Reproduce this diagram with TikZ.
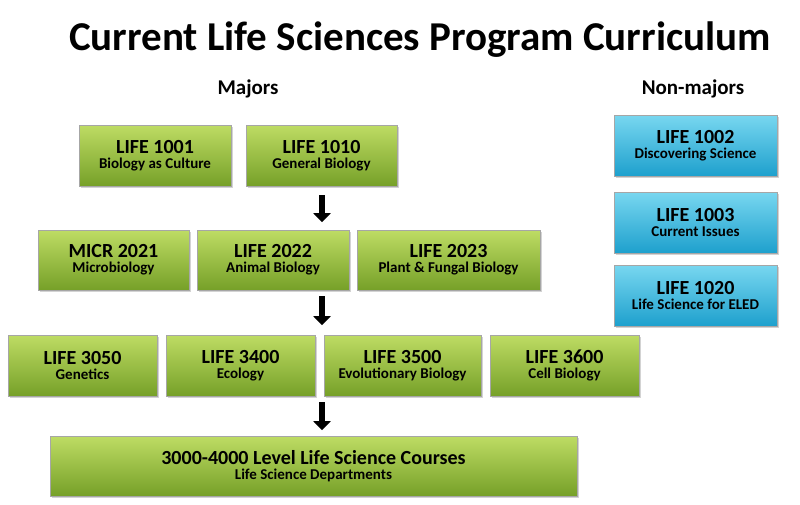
\documentclass[tikz,border=0pt]{standalone}
\usepackage{fontspec}
\setmainfont{Carlito}
\usetikzlibrary{shadows,arrows.meta}
\definecolor{gtop}{RGB}{190,220,100}
\definecolor{gbot}{RGB}{118,160,40}
\definecolor{btop}{RGB}{120,215,240}
\definecolor{bbot}{RGB}{30,160,205}
\begin{document}
\begin{tikzpicture}[x=1pt,y=-1pt,
 gbox/.style={draw=black!35,top color=gtop,bottom color=gbot,drop shadow={shadow xshift=1.5pt,shadow yshift=-1.5pt,opacity=0.35},inner sep=0pt,align=center,font=\bfseries},
 bbox/.style={gbox,top color=btop,bottom color=bbot},
 down/.style={-{Triangle[length=9pt,width=17pt]},line width=6pt}]
\useasboundingbox (0,0) rectangle (800,504);
\node[font=\bfseries\fontsize{41}{44}\selectfont] (title) at (420,40) {Current Life Sciences Program Curriculum};
\node[font=\bfseries\fontsize{21}{24}\selectfont] (maj) at (248,89) {Majors};
\node[font=\bfseries\fontsize{21}{24}\selectfont] (nmaj) at (693,89) {Non-majors};
\newcommand{\cbox}[8]{\node[#1,minimum width=#4pt,minimum height=#5pt] (#2) at (#3) {{\fontsize{#8}{#8}\selectfont #6}\\[3pt]{\fontsize{15}{15}\selectfont #7}};}
\cbox{gbox}{a1}{155,155.5}{152}{61}{LIFE 1001}{Biology as Culture}{20}
\cbox{gbox}{a2}{321.5,155.5}{151}{61}{LIFE 1010}{General Biology}{20}
\cbox{gbox}{b1}{113.5,260}{151}{60}{MICR 2021}{Microbiology}{20}
\cbox{gbox}{b2}{273,260}{152}{60}{LIFE 2022}{Animal Biology}{20}
\cbox{gbox}{b3}{448.5,260}{183}{60}{LIFE 2023}{Plant \& Fungal Biology}{20}
\cbox{gbox}{c1}{82.5,365.5}{149}{61}{LIFE 3050}{Genetics}{20}
\cbox{gbox}{c2}{240.5,365.5}{149}{61}{LIFE 3400}{Ecology}{20}
\cbox{gbox}{c3}{402.5,365.5}{157}{61}{LIFE 3500}{Evolutionary Biology}{20}
\cbox{gbox}{c4}{564.5,365.5}{149}{61}{LIFE 3600}{Cell Biology}{20}
\cbox{gbox}{d1}{313.5,466}{527}{60}{3000-4000 Level Life Science Courses}{Life Science Departments}{20}
\cbox{bbox}{n1}{695.5,145.5}{163}{61}{LIFE 1002}{Discovering Science}{20}
\cbox{bbox}{n2}{695.5,222.5}{163}{61}{LIFE 1003}{Current Issues}{20}
\cbox{bbox}{n3}{695.5,295.5}{163}{61}{LIFE 1020}{Life Science for ELED}{20}
\draw[down] (a2.south -| 322,0) ++(0,9) coordinate (s1) -- ++(0,27) coordinate (e1);
\draw[down] (b2.south -| 322,0) ++(0,6) coordinate (s2) -- ++(0,29) coordinate (e2);
\draw[down] (c3.south -| 322,0) ++(0,6) coordinate (s3) -- ++(0,28) coordinate (e3);
\end{tikzpicture}
\end{document}
